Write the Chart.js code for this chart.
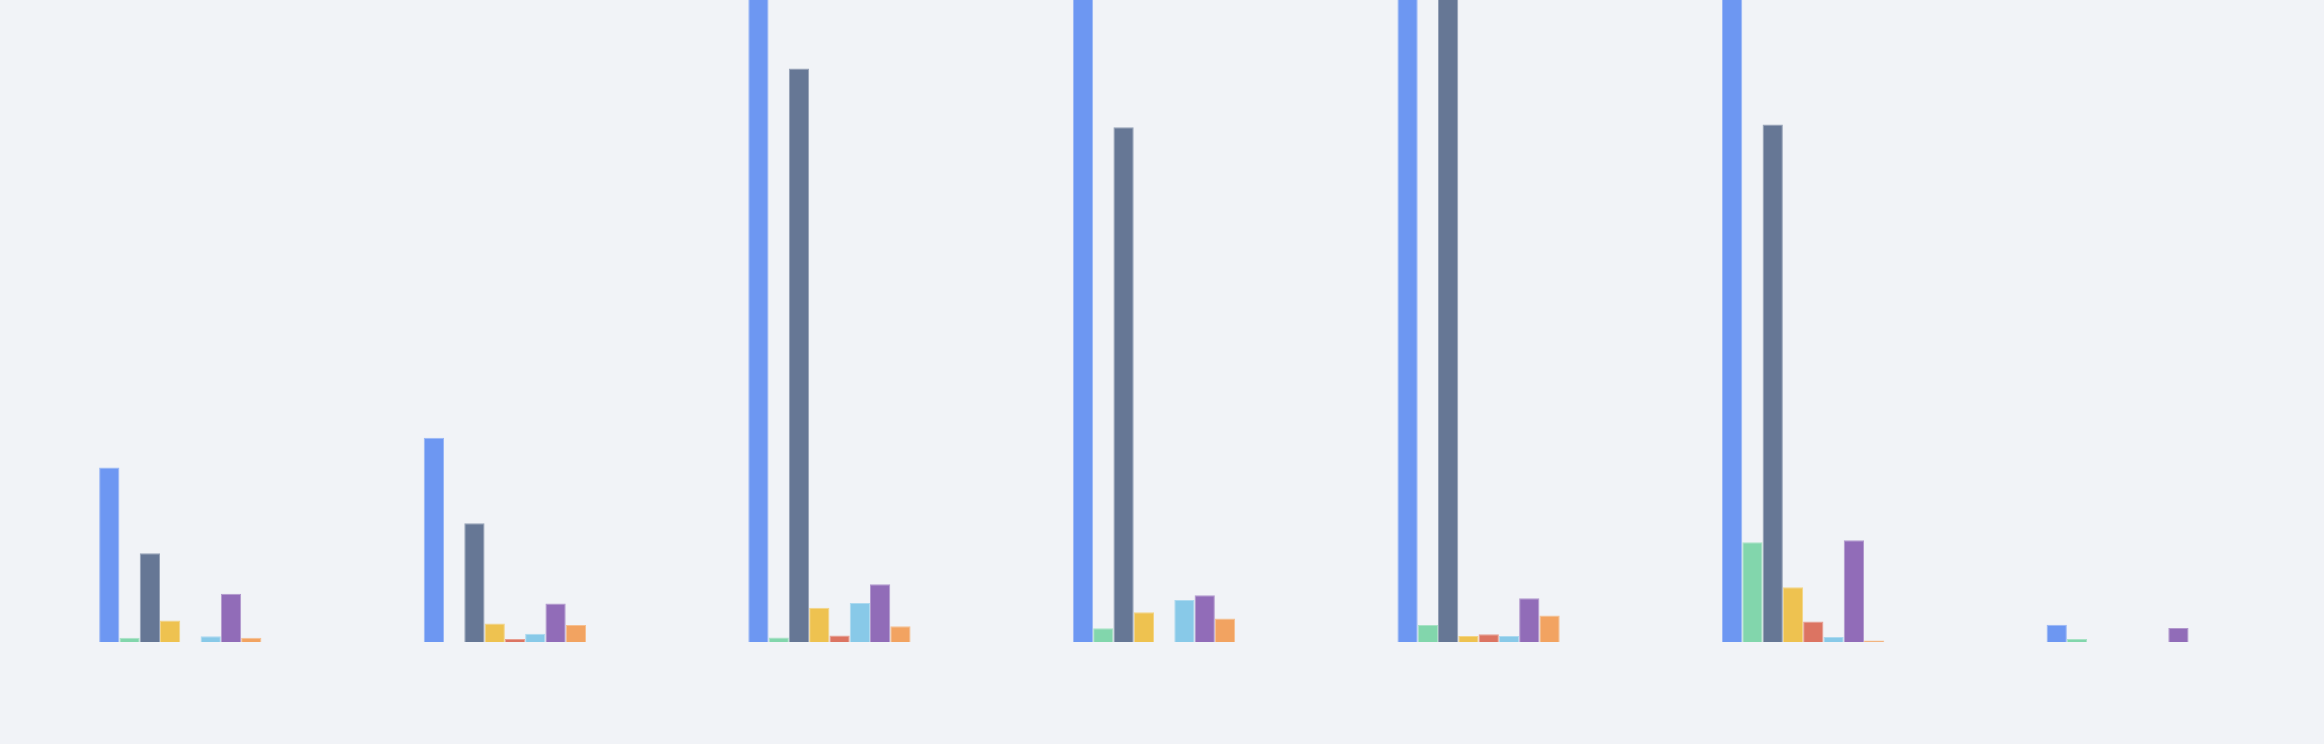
<!DOCTYPE html>
<html>
<head>
<meta charset="utf-8">
<script src="https://cdn.jsdelivr.net/npm/chart.js@4.4.1/dist/chart.umd.min.js"></script>
<style>
  html, body { margin: 0; padding: 0; background: #f1f3f7; }
  #wrap { width: 2324px; height: 744px; position: relative; }
</style>
</head>
<body>
<div id="wrap"><canvas id="bars"></canvas></div>
<script>
// categories (no labels are shown in the picture)
var categories = ['G1', 'G2', 'G3', 'G4', 'G5', 'G6', 'G7'];

// series values, one array per colour
var seriesBlue   = [163, 191, 700, 680, 760, 650, 16.1];
var seriesGreen  = [4, 0, 4.1, 12.8, 15.9, 93.3, 2.8];
var seriesSlate  = [83, 111, 536, 481, 720, 483.7, 0];
var seriesYellow = [20, 17.4, 32, 27.8, 5.6, 51.2, 0];
var seriesRed    = [0, 2.8, 6, 0, 7.2, 19.2, 0];
var seriesCyan   = [5.4, 7.7, 36.5, 39.3, 5.6, 4.6, 0];
var seriesPurple = [45, 36, 54, 43.7, 40.9, 95.1, 13];
var seriesOrange = [4, 16, 14.7, 21.9, 24.7, 1.4, 0];

var yMax = 600;

// thin lighter edge on each bar, like the reference
function lighten(hex, amt) {
    var n = parseInt(hex.slice(1), 16);
    var r = (n >> 16) & 255, g = (n >> 8) & 255, b = n & 255;
    r = Math.round(r + (255 - r) * amt);
    g = Math.round(g + (255 - g) * amt);
    b = Math.round(b + (255 - b) * amt);
    return 'rgb(' + r + ',' + g + ',' + b + ')';
}

function bar(label, data, color) {
    return {
        label: label,
        data: data,
        backgroundColor: color,
        borderColor: lighten(color, 0.3),
        borderWidth: 1,
        barPercentage: 1,
        categoryPercentage: 0.5
    };
}

new Chart(document.getElementById('bars'), {
    type: 'bar',
    data: {
        labels: categories,
        datasets: [
            bar('blue', seriesBlue, '#6d97f2'),
            bar('green', seriesGreen, '#82d6ac'),
            bar('slate', seriesSlate, '#667795'),
            bar('yellow', seriesYellow, '#eec250'),
            bar('red', seriesRed, '#dc7462'),
            bar('cyan', seriesCyan, '#88c9e8'),
            bar('purple', seriesPurple, '#916cb8'),
            bar('orange', seriesOrange, '#f2a361')
        ]
    },
    options: {
        responsive: true,
        maintainAspectRatio: false,
        animation: false,
        layout: { padding: { left: 18, right: 34, top: 0, bottom: 102 } },
        plugins: {
            legend: { display: false },
            tooltip: { enabled: false }
        },
        scales: {
            x: { display: false },
            y: { display: false, min: 0, max: yMax, beginAtZero: true }
        }
    }
});
</script>
</body>
</html>
